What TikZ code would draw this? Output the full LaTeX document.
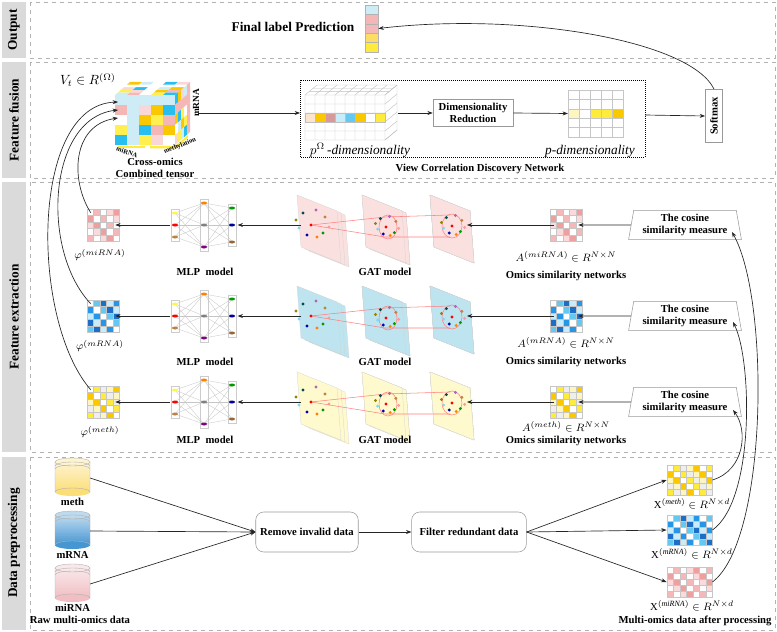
\documentclass[tikz,border=0pt]{standalone}
\usepackage{fontspec}
\setmainfont{Liberation Serif}
\usetikzlibrary{shapes.geometric,arrows.meta}

% palettes
\definecolor{pk0}{RGB}{255,255,255}\definecolor{pk1}{RGB}{250,218,218}
\definecolor{pk2}{RGB}{244,184,184}\definecolor{pk3}{RGB}{236,160,160}\definecolor{pk4}{RGB}{255,255,255}
\definecolor{bl0}{RGB}{255,255,255}\definecolor{bl1}{RGB}{200,236,250}
\definecolor{bl2}{RGB}{100,200,240}\definecolor{bl3}{RGB}{40,150,230}\definecolor{bl4}{RGB}{30,110,200}
\definecolor{yl0}{RGB}{255,255,255}\definecolor{yl1}{RGB}{255,245,190}
\definecolor{yl2}{RGB}{255,235,60}\definecolor{yl3}{RGB}{250,200,0}\definecolor{yl4}{RGB}{238,238,238}
\definecolor{cb0}{RGB}{250,200,0}\definecolor{cb1}{RGB}{245,182,182}
\definecolor{cb2}{RGB}{40,190,240}\definecolor{cb3}{RGB}{205,236,246}\definecolor{cb4}{RGB}{255,240,80}
\definecolor{cb5}{RGB}{250,215,215}\definecolor{cb6}{RGB}{255,255,255}
\definecolor{secgray}{RGB}{218,218,218}
\definecolor{gpk}{RGB}{251,224,224}\definecolor{gbl}{RGB}{190,228,240}\definecolor{gyl}{RGB}{255,250,205}
\definecolor{dbyl}{RGB}{252,222,120}\definecolor{dbbl}{RGB}{70,150,210}\definecolor{dbpk}{RGB}{240,190,195}

% heat map: x y cols rows w h palette
\newcommand{\heatmap}[7]{%
  \foreach \i in {1,...,#3}{\foreach \j in {1,...,#4}{
    \pgfmathtruncatemacro\k{mod(\i*7+\j*3+\i*\j*5,5)}
    \fill[fill=#7\k,draw=gray!45,line width=0.3pt] ({#1+(\i-1)*#5},{#2+(\j-1)*#6}) rectangle +(#5,#6);}}}

% gat plane: x y fill
\newcommand{\gatplane}[3]{%
  \fill[fill=#3,draw=gray!35,line width=0.2pt] (#1,#2-30) -- (#1+40,#2-14) -- (#1+44,#2+38) -- (#1+4,#2+22) -- cycle;}

\tikzset{
  lbl/.style={font=\bfseries\footnotesize,align=center},
  sec/.style={fill=secgray,font=\bfseries\normalsize,rotate=90},
  panel/.style={draw=gray!60,dashed,line width=0.4pt},
  arr/.style={-{Stealth[length=4pt,width=3pt]},line width=0.5pt,draw=black!85},
  procbox/.style={draw=gray!80,rounded corners=6pt,minimum width=75pt,minimum height=30pt,font=\bfseries\footnotesize},
  cosbox/.style={trapezium,draw=gray!80,trapezium left angle=80,trapezium right angle=80,
    minimum width=66pt,minimum height=22pt,inner sep=1pt,font=\bfseries\footnotesize,align=center},
  mapnode/.style={minimum width=18pt,minimum height=18pt,inner sep=0pt},
}

\begin{document}
\begin{tikzpicture}[x=0.75pt,y=-0.75pt]
\useasboundingbox (0,0) rectangle (777,631);

% Section labels and panels
\fill[secgray] (2,2) rectangle (26,58);
\node[sec] at (14,30) {Output};
\draw[panel] (30,2) rectangle (775,58);
\fill[secgray] (2,62) rectangle (26,178);
\node[sec] at (14,120) {Feature fusion};
\draw[panel] (30,62) rectangle (775,178);
\fill[secgray] (2,182) rectangle (26,452);
\node[sec] at (14,317) {Feature extraction};
\draw[panel] (30,182) rectangle (775,452);
\fill[secgray] (2,457) rectangle (26,630);
\node[sec] at (14,543) {Data preprocessing};
\draw[panel] (30,457) rectangle (775,630);

% Output
\node[font=\bfseries\normalsize] (final) at (293,27) {Final label Prediction};
\foreach \c [count=\n] in {cb3,cb1,pk2,yl3!60,yl2}
  \fill[\c,draw=gray!60] (365,{5+(\n-1)*9.4}) rectangle (378,{5+\n*9.4});
\node[minimum width=10pt,minimum height=35pt,inner sep=0pt] (bar) at (371.5,28.5) {};

% Combined tensor (cube)
\foreach \i in {1,...,5}{\foreach \j in {1,...,5}{
  \pgfmathtruncatemacro\k{mod(\i*5+\j*3+\i*\j*2,7)}
  \fill[fill=cb\k] ({115+(\i-1)*12},{95+(\j-1)*10}) rectangle +(12,10);
  \pgfmathtruncatemacro\k{mod(\i*2+\j*5+\i*\j*3,7)}
  \fill[fill=cb\k] ({115+(\i-1)*12+(\j-1)*3},{95-(\j-1)*2.6}) -- ++(12,0) -- ++(3,-2.6) -- ++(-12,0) -- cycle;
  \pgfmathtruncatemacro\k{mod(\i*4+\j*3+\i*\j*2,7)}
  \fill[fill=cb\k] ({175+(\j-1)*3},{95+(\i-1)*10-(\j-1)*2.6}) -- ++(3,-2.6) -- ++(0,10) -- ++(-3,2.6) -- cycle;}}
\fill[yl2] (118,146) rectangle (145,148.5);
\fill[yl2] (150,146) -- (175,146) -- (188,135) -- (188,137.5) -- (176,148.5) -- (150,148.5) -- cycle;
\node[font=\itshape\normalsize] at (88,80) {$V_t\in R^{(\Omega)}$};
\node[font=\bfseries\scriptsize,rotate=90] at (196,103) {mRNA};
\node[font=\bfseries\tiny,rotate=-18] at (127,152) {miRNA};
\node[font=\bfseries\tiny,rotate=22] at (180,146) {methylation};
\node[lbl] at (155,168) {Cross-omics\\Combined tensor};

% View Correlation Discovery Network
\draw[densely dotted,line width=0.5pt] (300,80) rectangle (645,157);
\foreach \x in {0,...,8} \draw[gray!50,line width=0.3pt] (305+\x*10,95) -- (305+\x*10,140) (305+\x*10,95) -- (317+\x*10,85);
\foreach \y in {0,...,5} \draw[gray!50,line width=0.3pt] (305,95+\y*9) -- (385,95+\y*9) (385,95+\y*9) -- (397,85+\y*9);
\draw[gray!50,line width=0.3pt] (309,91.7) -- (389,91.7) (313,88.3) -- (393,88.3) (317,85) -- (397,85) (397,85) -- (397,130) -- (385,140);
\foreach \c [count=\n] in {pk1!60!yl1,yl3,pk3!80!gray,bl1,bl2,yl3,white,yl2}
  \fill[\c,draw=gray!50,line width=0.3pt] ({305+(\n-1)*10},113) rectangle +(10,9);
\node[font=\itshape\normalsize] at (360,150) {$p^{\Omega}$\,-dimensionality};
\node[draw=gray!80,font=\bfseries\footnotesize,align=center,minimum width=60pt,minimum height=20pt,inner sep=1pt] (dimred) at (473,113) {Dimensionality\\Reduction};
\foreach \x in {0,...,4}{\foreach \y in {0,...,4}
  \draw[gray!45,line width=0.3pt] (568+\x*11,90+\y*9.4) rectangle +(11,9.4);}
\foreach \c [count=\n] in {yl1,white,yl2,yl2,yl3}
  \fill[\c,draw=gray!45,line width=0.3pt] ({568+(\n-1)*11},108.8) rectangle +(11,9.4);
\node[inner sep=0pt,minimum width=41pt,minimum height=35pt] (pgrid) at (595.5,113.5) {};
\node[font=\itshape\normalsize] at (590,151) {p-dimensionality};
\node[font=\bfseries\footnotesize] at (480,169) {View Correlation Discovery Network};
\node[draw=gray!80,minimum width=13pt,minimum height=40pt,inner sep=0pt] (softmax) at (714,116) {};
\node[font=\bfseries\footnotesize,rotate=90] at (softmax) {Softmax};
\coordinate (cubeout) at (198,113);
\coordinate (vin) at (300,113);
\coordinate (vgrid) at (398,113);
\coordinate (vout) at (645,115);
\draw[arr] (cubeout) -- (vin);
\draw[arr] (vgrid) -- (dimred.west);
\draw[arr] (dimred.east) -- (pgrid.west);
\draw[arr] (vout) -- (softmax.west);
\draw[arr] (softmax.north) .. controls (690,40) and (520,12) .. (bar.east);

% Feature extraction rows: y, palette, plane colour, omics name
\foreach \ry/\pal/\pc/\om in {225/pk/gpk/miRNA,316/bl/gbl/mRNA,402/yl/gyl/meth}{
  \begin{scope}
  % cosine similarity
  \node[cosbox] (cos\om) at (685,\ry) {The cosine\\similarity measure};
  % similarity network
  \heatmap{550}{\ry-16}{5}{5}{6.5}{6.5}{\pal}
  \node[mapnode] (A\om) at (566,\ry) {};
  % GAT planes
  \foreach \o in {8,4,0} \gatplane{297+\o}{\ry+\o/2}{\pc}
  \foreach \o in {4,0} \gatplane{362+\o}{\ry+\o/2}{\pc}
  \gatplane{430}{\ry}{\pc}
  \node[inner sep=0pt,minimum width=22pt,minimum height=30pt] (gatA\om) at (316,\ry) {};
  \node[inner sep=0pt,minimum width=22pt,minimum height=30pt] (gatC\om) at (452,\ry) {};
  \draw[red!50,line width=0.4pt] (311,\ry) -- (385,\ry-8) (311,\ry) -- (385,\ry+12)
    (385,\ry-8) -- (450,\ry-10) (385,\ry+12) -- (450,\ry+12);
  \draw[red!50,line width=0.4pt] (388,\ry+2) ellipse (9 and 12) (452,\ry+1) ellipse (10 and 12);
  \foreach \dx/\dy/\dc in {0/0/red,-8/-12/teal!60!black,5/-15/violet!60,12/8/green!60!black,-4/10/blue!70!black,18/2/pink!80!red,-12/3/cyan!50,6/12/orange,-15/-5/olive,14/-8/brown}{
    \fill[\dc] (311+\dx,\ry+\dy) circle (1.7);
    \fill[\dc] (386+\dx*0.7,\ry+2+\dy*0.7) circle (1.6);
    \fill[\dc] (452+\dx*0.7,\ry+1+\dy*0.7) circle (1.6);}
  % MLP model
  \draw[gray!40,line width=0.3pt] (171,\ry-16) rectangle (179,\ry+16) (200,\ry-26) rectangle (208,\ry+26) (228,\ry-21) rectangle (236,\ry+21);
  \foreach \a in {-12,0,12}{\foreach \b in {-22,0,22} \draw[gray!45,line width=0.25pt] (175,\ry+\a) -- (204,\ry+\b);}
  \foreach \a in {-22,0,22}{\foreach \b in {-17,0,17} \draw[gray!45,line width=0.25pt] (204,\ry+\a) -- (232,\ry+\b);}
  \foreach \a/\c in {-12/yellow!70,0/red,12/brown}{\fill[\c] (175,\ry+\a) ellipse (3 and 1.5);}
  \foreach \a/\c in {-22/orange,0/gray,22/violet}{\fill[\c] (204,\ry+\a) ellipse (3 and 1.5);}
  \foreach \a/\c in {-17/green!60!black,0/blue!60!black,17/brown!80!black}{\fill[\c] (232,\ry+\a) ellipse (3 and 1.5);}
  \node[inner sep=0pt,minimum width=50pt,minimum height=40pt] (mlp\om) at (204,\ry) {};
  % phi matrix
  \heatmap{87}{\ry-16}{5}{5}{6.5}{6.5}{\pal}
  \node[mapnode] (phi\om) at (103,\ry) {};
  \node[font=\itshape\footnotesize] at (100,\ry+30) {$\varphi^{(\om)}$};
  \draw[arr] (cos\om.west) -- (A\om.east);
  \draw[arr] (A\om.west) -- (gatC\om.east);
  \draw[arr] (gatA\om.west) -- (mlp\om.east);
  \draw[arr] (mlp\om.west) -- (phi\om.east);
  \end{scope}}
\node[font=\itshape\footnotesize] at (566,257) {$A^{(miRNA)}\in R^{N\times N}$};
\node[font=\itshape\footnotesize] at (566,343) {$A^{(mRNA)}\in R^{N\times N}$};
\node[font=\itshape\footnotesize] at (566,427) {$A^{(meth)}\in R^{N\times N}$};
\foreach \ty in {272,362,440}{
  \node[lbl] at (205,\ty) {MLP\ \ model};
  \node[lbl] at (385,\ty) {GAT model};}
\node[lbl] at (566,276) {Omics similarity networks};
\node[lbl] at (566,362) {Omics similarity networks};
\node[lbl] at (566,441) {Omics similarity networks};

% curves from phi to the tensor
\coordinate (c1) at (118,118);
\coordinate (c2) at (118,110);
\coordinate (c3) at (118,102);
\draw[arr] (phimiRNA.north west) .. controls (70,180) and (72,125) .. (c1);
\draw[arr] (phimRNA.north west) .. controls (40,250) and (48,118) .. (c2);
\draw[arr] (phimeth.north west) .. controls (30,320) and (30,105) .. (c3);

% Data preprocessing
\foreach \cy/\cc/\nm in {462/dbyl/meth,515/dbbl/mRNA,568/dbpk/miRNA}{
  \shade[top color=\cc!35!white,bottom color=\cc] (55,\cy) rectangle (90,\cy+30);
  \fill[\cc] (72.5,\cy+30) ellipse (17.5 and 4);
  \fill[\cc!35!white,draw=gray!60,line width=0.3pt] (72.5,\cy) ellipse (17.5 and 4);
  \draw[gray!60,line width=0.3pt] (55,\cy) -- (55,\cy+30) (90,\cy) -- (90,\cy+30) (55,\cy+4) arc (180:360:17.5 and 4) (55,\cy+7) arc (180:360:17.5 and 4) (55,\cy+30) arc (180:360:17.5 and 4);
  \node[inner sep=0pt,minimum width=26pt,minimum height=28pt] (db\nm) at (72.5,\cy+16) {};
  \node[lbl] at (72.5,\cy+40) {\nm};}
\node[lbl] at (80,620) {Raw multi-omics data};
\node[procbox] (remove) at (307,532) {Remove invalid data};
\node[procbox,minimum width=86pt] (filter) at (469,532) {Filter redundant data};
\draw[arr] (dbmeth.east) -- (remove.west);
\draw[arr] (dbmRNA.east) -- (remove.west);
\draw[arr] (dbmiRNA.east) -- (remove.west);
\draw[arr] (remove.east) -- (filter.west);
\foreach \xy/\pal/\nm in {465/yl/meth,515/bl/mRNA,567/pk/miRNA}{
  \heatmap{667}{\xy}{7}{5}{6.5}{6}{\pal}
  \node[inner sep=0pt,minimum width=34pt,minimum height=22pt] (X\nm) at (689.5,\xy+15) {};
  \node[font=\footnotesize] at (692,\xy+39) {$\mathrm{X}^{(\mathit{\nm})}\in R^{N\times d}$};
  \draw[arr] (filter.east) -- (X\nm.west);}
\node[lbl] at (695,621) {Multi-omics data after processing};
\coordinate (k3) at (733,410);
\coordinate (k2) at (733,322);
\coordinate (k1) at (732,232);
\draw[arr] (Xmeth.east) .. controls (745,470) and (748,430) .. (k3);
\draw[arr] (XmRNA.east) .. controls (755,500) and (752,360) .. (k2);
\draw[arr] (XmiRNA.east) .. controls (768,540) and (770,300) .. (k1);
\end{tikzpicture}
\end{document}
